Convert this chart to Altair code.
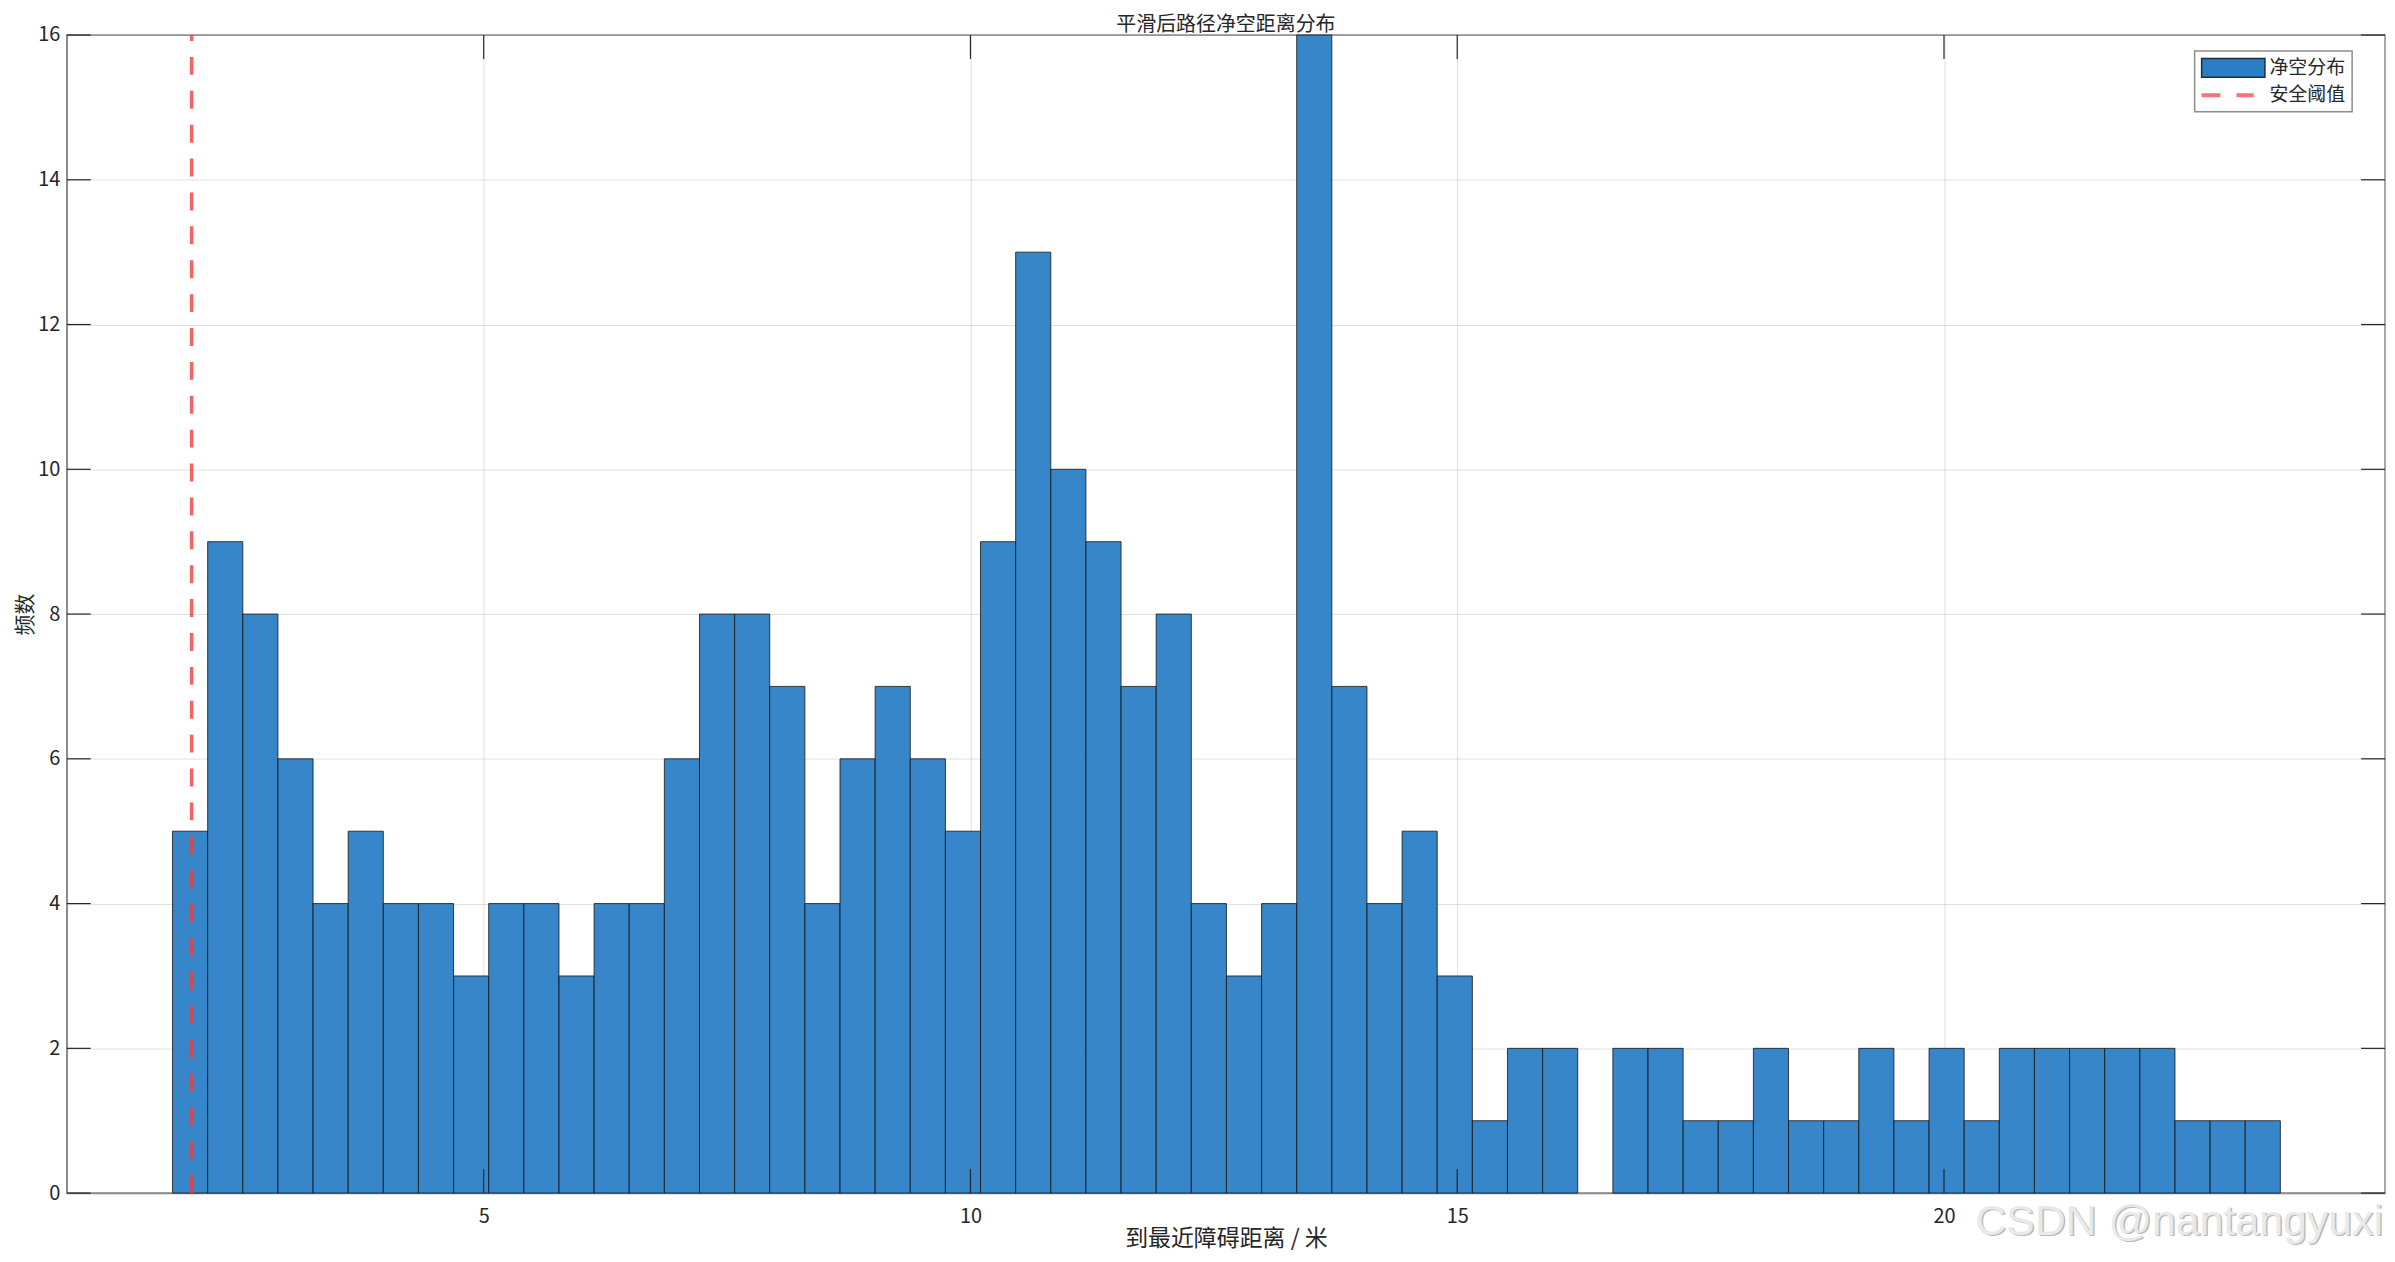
import altair as alt
import numpy as np
import pandas as pd

# ---------------- data ----------------
TITLE = "平滑后路径净空距离分布"
X_TITLE = "到最近障碍距离 / 米"
Y_TITLE = "频数"
SERIES_HIST = "净空分布"
SERIES_THRESH = "安全阈值"
WATERMARK = "CSDN @nantangyuxi"

# histogram counts (60 bins, left to right)
COUNTS = [5, 9, 8, 6, 4, 5, 4, 4, 3, 4,
          4, 3, 4, 4, 6, 8, 8, 7, 4, 6,
          7, 6, 5, 9, 13, 10, 9, 7, 8, 4,
          3, 4, 16, 7, 4, 5, 3, 1, 2, 2,
          0, 2, 2, 1, 1, 2, 1, 1, 2, 1,
          2, 1, 2, 2, 2, 2, 2, 1, 1, 1]
FIRST_EDGE = 1.804     # left edge of first bin
LAST_EDGE = 23.455     # right edge of last bin
THRESHOLD = 2.0        # safety threshold (dashed line)

X_DOMAIN = [0.718, 24.53]
Y_DOMAIN = [0, 16]
X_TICKS = [5, 10, 15, 20]
Y_TICKS = [0, 2, 4, 6, 8, 10, 12, 14, 16]

# ---------------- styling ----------------
W, H = 2326, 1162
FONT = "Noto Sans CJK SC"
TXT = "#262626"
BAR_FILL = "#2a7ec6"
LEG_RED = "#f57373"
LINE_RED = "#f23c3c"
FRAME = "#8c8c8c"
TICK_LEN = 24

edges = np.linspace(FIRST_EDGE, LAST_EDGE, len(COUNTS) + 1)
hist = pd.DataFrame({
    "start": edges[:-1],
    "end": edges[1:],
    "count": COUNTS,
    "series": [SERIES_HIST] * len(COUNTS),
})
thr = pd.DataFrame({"x": [THRESHOLD], "y0": [Y_DOMAIN[0]], "y1": [Y_DOMAIN[1]]})
xt = pd.DataFrame({"tick": X_TICKS})
yt = pd.DataFrame({"tick": Y_TICKS})
wm = pd.DataFrame({"label": [WATERMARK]})

xscale = alt.Scale(domain=X_DOMAIN, nice=False, zero=False)
yscale = alt.Scale(domain=Y_DOMAIN, nice=False, zero=False)
XAXIS = alt.Axis(values=X_TICKS, labelPadding=13, titlePadding=2)
YAXIS = alt.Axis(values=Y_TICKS, labelPadding=7, titlePadding=2, titleFontSize=21)

RECT_PATH = "M-1,-0.95L5.35,-0.95L5.35,0.95L-1,0.95Z"
DASH_PATH = "M-1,-0.2L0.88,-0.2L0.88,0.2L-1,0.2ZM2.5,-0.2L4.23,-0.2L4.23,0.2L2.5,0.2Z"

legend = alt.Legend(
    title=None,
    orient="none",
    legendX=2135,
    legendY=16,
    symbolType=alt.ExprRef(expr=f"datum.value === '{SERIES_THRESH}' ? '{DASH_PATH}' : '{RECT_PATH}'"),
    symbolSize=400,
    symbolStrokeColor=alt.ExprRef(expr=f"datum.value === '{SERIES_THRESH}' ? 'transparent' : '#1f2d3a'"),
    symbolStrokeWidth=1.5,
    labelFont=FONT,
    labelFontSize=19,
    labelColor=TXT,
    labelOffset=47,
    padding=6,
    rowPadding=3.5,
    strokeColor=FRAME,
    fillColor="white",
    cornerRadius=0,
)

bars = alt.Chart(hist).transform_filter("datum.count > 0").mark_rect(
    stroke="rgba(20,20,20,0.8)", fillOpacity=0.94
).encode(
    x=alt.X("start:Q", scale=xscale, axis=XAXIS, title=X_TITLE),
    x2="end:Q",
    y=alt.Y("count:Q", scale=yscale, axis=YAXIS, title=Y_TITLE),
    y2=alt.datum(0),
    color=alt.Color("series:N",
                    scale=alt.Scale(domain=[SERIES_HIST, SERIES_THRESH], range=[BAR_FILL, LEG_RED]),
                    legend=legend),
)

rule = alt.Chart(thr).mark_rule(color=LINE_RED, strokeOpacity=0.8, strokeWidth=3.5,
                                strokeDash=[18, 16]).encode(
    x=alt.X("x:Q", scale=xscale, axis=XAXIS, title=X_TITLE),
    y=alt.Y("y0:Q", scale=yscale, axis=YAXIS, title=Y_TITLE),
    y2="y1:Q",
)

tick_style = dict(color=TXT, strokeWidth=1.2)
xt_bottom = alt.Chart(xt).mark_rule(**tick_style).encode(
    x=alt.X("tick:Q", scale=xscale, axis=XAXIS, title=X_TITLE),
    y=alt.value(H), y2=alt.value(H - TICK_LEN))
xt_top = alt.Chart(xt).mark_rule(**tick_style).encode(
    x=alt.X("tick:Q", scale=xscale, axis=XAXIS, title=X_TITLE),
    y=alt.value(0), y2=alt.value(TICK_LEN))
yt_left = alt.Chart(yt).mark_rule(**tick_style).encode(
    y=alt.Y("tick:Q", scale=yscale, axis=YAXIS, title=Y_TITLE),
    x=alt.value(0), x2=alt.value(TICK_LEN))
yt_right = alt.Chart(yt).mark_rule(**tick_style).encode(
    y=alt.Y("tick:Q", scale=yscale, axis=YAXIS, title=Y_TITLE),
    x=alt.value(W), x2=alt.value(W - TICK_LEN))

wm_shadow = alt.Chart(wm).mark_text(font="Liberation Sans", fontSize=43, align="right",
                                    baseline="alphabetic", color="#b9b9b9").encode(
    text="label:N", x=alt.value(W - 0.5), y=alt.value(H + 43.5))
wm_text = alt.Chart(wm).mark_text(font="Liberation Sans", fontSize=43, align="right",
                                  baseline="alphabetic", color="#e9e9e9").encode(
    text="label:N", x=alt.value(W - 2), y=alt.value(H + 42))

chart = alt.layer(
    bars, rule, xt_bottom, xt_top, yt_left, yt_right, wm_shadow, wm_text
).properties(
    width=W,
    height=H,
    title=alt.TitleParams(text=TITLE, font=FONT, fontSize=20, fontWeight="normal",
                          color=TXT, anchor="middle", frame="group", offset=1, dy=11),
    autosize=alt.AutoSizeParams(type="none"),
    padding={"left": 59, "top": 25, "right": 2, "bottom": 57},
    background="white",
).configure_view(
    stroke=FRAME, strokeWidth=1.5,
).configure_axis(
    grid=True,
    gridColor=TXT,
    gridOpacity=0.15,
    gridWidth=1,
    ticks=False,
    tickSize=0,
    domainColor=FRAME,
    domainWidth=1.5,
    labelFont=FONT,
    labelFontSize=20,
    labelColor=TXT,
    titleFont=FONT,
    titleFontSize=23,
    titleFontWeight="normal",
    titleColor=TXT,
    zindex=1,
).configure_legend(
    strokeWidth=1.5,
)

chart.save("out.html", embed_options={"renderer": "svg", "actions": False})
